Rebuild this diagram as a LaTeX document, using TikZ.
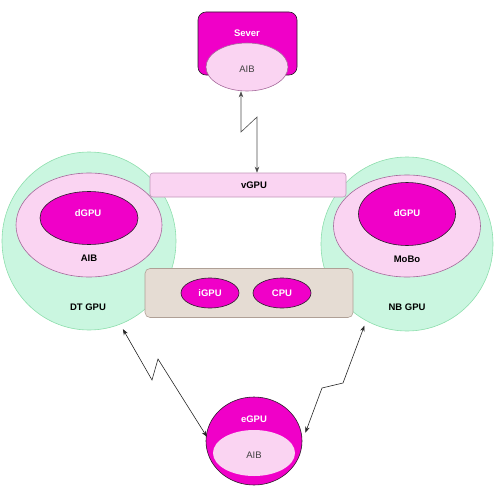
\documentclass[tikz,border=0pt]{standalone}
\usepackage{fontspec}
\setmainfont{Liberation Sans}
\usetikzlibrary{shapes.geometric,arrows.meta,calc}
\definecolor{mag}{RGB}{240,0,200}
\definecolor{lpink}{RGB}{250,212,242}
\definecolor{pinkline}{RGB}{165,105,155}
\definecolor{mint}{RGB}{202,246,224}
\definecolor{mintline}{RGB}{140,222,172}
\definecolor{tan}{RGB}{229,220,211}
\definecolor{tanline}{RGB}{175,160,150}
\definecolor{darkline}{RGB}{40,30,40}
\tikzset{
  x=1pt, y=-1pt,
  shp/.style={ellipse, inner sep=0pt, line width=0.6pt},
  outer/.style={shp, fill=mint, draw=mintline},
  board/.style={shp, fill=lpink, draw=pinkline},
  chip/.style={shp, fill=mag, draw=darkline},
  wtxt/.style={text=white, font=\fontsize{9.5}{11}\selectfont\bfseries, inner sep=0pt},
  btxt/.style={text=black, font=\fontsize{9.5}{11}\selectfont\bfseries, inner sep=0pt},
  gtxt/.style={text=black!75, font=\fontsize{9.5}{11}\selectfont, inner sep=0pt},
  link/.style={{Stealth[length=6pt,width=4.5pt]}-{Stealth[length=6pt,width=4.5pt]}, line width=0.6pt, draw=black!85},
}
\begin{document}
\begin{tikzpicture}
\useasboundingbox (0,0) rectangle (500,495);
% DT GPU
\node[outer, minimum width=174pt, minimum height=178pt] (dt) at (89,241) {};
\node[board, minimum width=146pt, minimum height=104pt] (dtaib) at (89,225) {};
\node[chip, minimum width=98pt, minimum height=53pt] (dtdgpu) at (89,218) {};
\node[wtxt] (dtdgputxt) at (88,213) {dGPU};
\node[btxt] (dtaibtxt) at (89,258) {AIB};
\node[btxt] (dttxt) at (88,307) {DT GPU};
% NB GPU
\node[outer, minimum width=172pt, minimum height=174pt] (nb) at (407,244) {};
\node[board, minimum width=147pt, minimum height=102pt] (mobo) at (407,226) {};
\node[chip, minimum width=97pt, minimum height=63pt] (nbdgpu) at (407,214) {};
\node[wtxt] (nbdgputxt) at (407,213) {dGPU};
\node[btxt] (mobotxt) at (407,259) {MoBo};
\node[btxt] (nbtxt) at (407,307) {NB GPU};
% vGPU
\node[draw=pinkline!70, fill=lpink, line width=0.6pt, rounded corners=3pt, minimum width=196pt, minimum height=24pt, inner sep=0pt] (vgpu) at (248,185) {};
\node[btxt] (vgputxt) at (254,185) {vGPU};
% tan box
\node[draw=tanline, fill=tan, line width=0.6pt, rounded corners=5pt, minimum width=208pt, minimum height=49pt, inner sep=0pt] (soc) at (249,293) {};
\node[chip, minimum width=58pt, minimum height=30pt] (igpu) at (210,293) {};
\node[wtxt] (igputxt) at (210,293) {iGPU};
\node[chip, minimum width=58pt, minimum height=30pt] (cpu) at (282,293) {};
\node[wtxt] (cputxt) at (282,293) {CPU};
% Server
\node[fill=mag, draw=darkline, line width=0.6pt, rounded corners=8pt, minimum width=99pt, minimum height=63pt, inner sep=0pt] (srv) at (247.5,43.5) {};
\node[board, minimum width=82pt, minimum height=48pt] (srvaib) at (247,67) {};
\node[wtxt] (srvtxt) at (247,33) {Sever};
\node[gtxt] (srvaibtxt) at (247,69) {AIB};
% eGPU
\node[chip, minimum width=96pt, minimum height=88pt] (egpu) at (254,441) {};
\node[board, draw=none, minimum width=82pt, minimum height=46pt] (egaib) at (254,453) {};
\node[wtxt] (egputxt) at (254,419) {eGPU};
\node[gtxt] (egaibtxt) at (254,455) {AIB};
% connectors
\coordinate (z1) at (241,132);
\coordinate (z2) at (257,117);
\draw[link, draw=black!70] (srvaib.south -| z1) -- (z1) -- (z2) -- (z2 |- vgpu.north);
\coordinate (l1) at (152,380);
\coordinate (l2) at (158,359);
\draw[link] ($(dt.-69)+(2,5)$) -- (l1) -- (l2) -- ($(egpu.175)+(1,0)$);
\coordinate (r1) at (343,383);
\coordinate (r2) at (322,388);
\draw[link] ($(nb.-117)+(-3,4)$) -- (r1) -- (r2) -- ($(egpu.10)+(4,0)$);
\end{tikzpicture}
\end{document}
